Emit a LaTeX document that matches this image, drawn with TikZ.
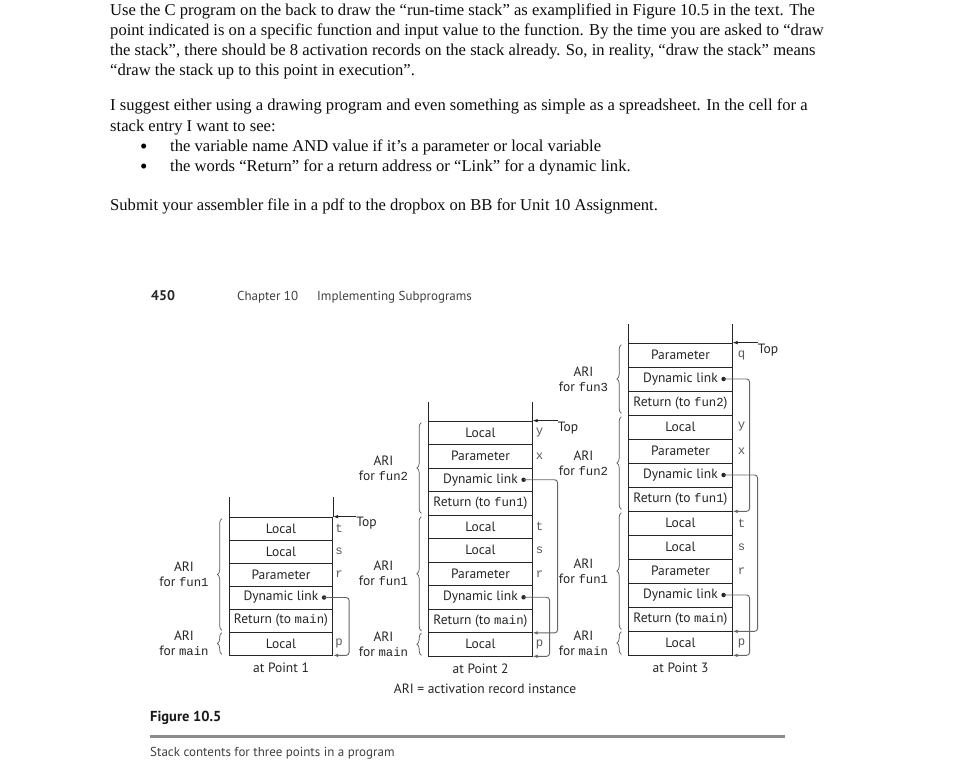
\documentclass[tikz,border=0pt]{standalone}
\usepackage{fontspec}
\setmainfont{Liberation Serif}
\newfontfamily\figsans{PT Sans}
\newfontfamily\figmono{Liberation Mono}
\usetikzlibrary{decorations.pathreplacing,arrows.meta,calc}
\newcommand{\mt}[1]{{\figmono\fontsize{12.3}{13}\selectfont #1}}
\begin{document}
\begin{tikzpicture}[x=1pt,y=-1pt,
  body/.style={anchor=base west, inner sep=0pt, text=black!95, font=\fontsize{16.6}{18}\selectfont},
  bul/.style={anchor=base west, inner sep=0pt, font=\fontsize{21}{21}\selectfont},
  figtxt/.style={text=black!85, font=\figsans\fontsize{13.5}{15}\selectfont},
  cellA/.style={draw=black!85, line width=0.7pt, minimum width=103.5pt, minimum height=23pt, inner sep=0pt, figtxt},
  cellB/.style={cellA, minimum height=23.5pt},
  cellC/.style={cellA, minimum height=24pt},
  var/.style={inner sep=0pt, text=black!65, font=\figmono\fontsize{12.3}{13}\selectfont},
  dot/.style={circle, fill=black!85, inner sep=0pt, minimum size=4.5pt},
  link/.style={draw=black!60, line width=0.9pt, rounded corners=3pt, -{Latex[length=5pt,width=3.5pt]}},
  arr/.style={draw=black!85, line width=0.7pt, -{Latex[length=5pt,width=3.5pt]}},
  br/.style={draw=black!65, line width=0.7pt, decorate, decoration={brace, amplitude=4.5pt}},
  ari/.style={figtxt, align=center, inner sep=1pt, left=12pt},
  toplab/.style={figtxt, anchor=west, inner sep=0pt},
  ext/.style={draw=black!85, line width=0.7pt}
]
\fill[white] (0,0) rectangle (962,772);
\useasboundingbox (0,0) rectangle (962,772);

% ---------- instructions ----------
\node[body] (t1) at (110,15) {Use the C program on the back to draw the “run-time stack” as examplified in Figure 10.5 in the text. The};
\node[body] (t2) at (110,35) {point indicated is on a specific function and input value to the function. By the time you are asked to “draw};
\node[body] (t3) at (110,55) {the stack”, there should be 8 activation records on the stack already. So, in reality, “draw the stack” means};
\node[body] (t4) at (110,75) {“draw the stack up to this point in execution”.};
\node[body] (t5) at (110,110) {I suggest either using a drawing program and even something as simple as a spreadsheet. In the cell for a};
\node[body] (t6) at (110,131) {stack entry I want to see:};
\node[bul] (b1) at (140,153) {•};
\node[body] (t7) at (170,151) {the variable name AND value if it’s a parameter or local variable};
\node[bul] (b2) at (140,173) {•};
\node[body] (t8) at (170,171) {the words “Return” for a return address or “Link” for a dynamic link.};
\node[body] (t9) at (110,210) {Submit your assembler file in a pdf to the dropbox on BB for Unit 10 Assignment.};

% ---------- header ----------
\node[anchor=west, inner sep=0pt, text=black!85, font=\figsans\bfseries\fontsize{14}{16}\selectfont] (pg) at (151,296) {450};
\node[anchor=west, inner sep=0pt, text=black!75, font=\figsans\fontsize{13}{15}\selectfont] (ch) at (237,297) {Chapter 10};
\node[anchor=west, inner sep=0pt, text=black!75, font=\figsans\fontsize{13}{15}\selectfont] (im) at (317,297) {Implementing Subprograms};

% ---------- stack 1 ----------
\node[cellA] (s1r1) at (281,528.5) {Local};
\node[cellA] (s1r2) at (281,551.5) {Local};
\node[cellA] (s1r3) at (281,574.5) {Parameter};
\node[cellA] (s1r4) at (281,597.5) {Dynamic link};
\node[cellA] (s1r5) at (281,620.5) {Return (to \mt{main})};
\node[cellA] (s1r6) at (281,643.5) {Local};
\draw[ext] (s1r1.north west) -- ++(0,-20);
\draw[ext] (s1r1.north east) -- ++(0,-20);
\node[var] (v1t) at ([xshift=6pt]s1r1.east) {t};
\node[var] (v1s) at ([xshift=6pt]s1r2.east) {s};
\node[var] (v1r) at ([xshift=6pt]s1r3.east) {r};
\node[var] (v1p) at ([xshift=6pt]s1r6.east) {p};
\node[dot] (d1a) at ([xshift=-9pt]s1r4.east) {};
\draw[link] (d1a.center) -- ++(25,0) |- (s1r6.south east);
\node[toplab] (top1) at ([xshift=23pt,yshift=-6pt]s1r1.north east) {Top};
\draw[arr] (top1.west |- s1r1.north east) -- (s1r1.north east);
\draw[br] ([xshift=-7pt,yshift=2pt]s1r5.south west) -- node[ari] (l1f1) {ARI\\for \mt{fun1}} ([xshift=-7pt,yshift=-2pt]s1r1.north west);
\draw[br] ([xshift=-7pt,yshift=1pt]s1r6.south west) -- node[ari] (l1m) {ARI\\for \mt{main}} ([xshift=-7pt,yshift=-1pt]s1r6.north west);
\node[figtxt] (p1) at ([yshift=-12pt]s1r6.south) {at Point 1};

% ---------- stack 2 ----------
\node[cellB] (s2r1) at (480.5,432.75) {Local};
\node[cellB] (s2r2) at (480.5,456.25) {Parameter};
\node[cellB] (s2r3) at (480.5,479.75) {Dynamic link};
\node[cellB] (s2r4) at (480.5,503.25) {Return (to \mt{fun1})};
\node[cellB] (s2r5) at (480.5,526.75) {Local};
\node[cellB] (s2r6) at (480.5,550.25) {Local};
\node[cellB] (s2r7) at (480.5,573.75) {Parameter};
\node[cellB] (s2r8) at (480.5,597.25) {Dynamic link};
\node[cellB] (s2r9) at (480.5,620.75) {Return (to \mt{main})};
\node[cellB] (s2r10) at (480.5,644.25) {Local};
\draw[ext] (s2r1.north west) -- ++(0,-19);
\draw[ext] (s2r1.north east) -- ++(0,-19);
\node[var] (v2y) at ([xshift=7pt]s2r1.east) {y};
\node[var] (v2x) at ([xshift=7pt]s2r2.east) {x};
\node[var] (v2t) at ([xshift=7pt]s2r5.east) {t};
\node[var] (v2s) at ([xshift=7pt]s2r6.east) {s};
\node[var] (v2r) at ([xshift=7pt]s2r7.east) {r};
\node[var] (v2p) at ([xshift=7pt]s2r10.east) {p};
\node[dot] (d2a) at ([xshift=-9pt]s2r3.east) {};
\node[dot] (d2b) at ([xshift=-9pt]s2r8.east) {};
\draw[link] (d2a.center) -- ++(34,0) |- (s2r9.south east);
\draw[link] (d2b.center) -- ++(26,0) |- (s2r10.south east);
\node[toplab] (top2) at ([xshift=25pt,yshift=-7pt]s2r1.north east) {Top};
\draw[arr] (top2.west |- s2r1.north east) -- (s2r1.north east);
\draw[br] ([xshift=-7pt,yshift=2pt]s2r4.south west) -- node[ari] (l2f2) {ARI\\for \mt{fun2}} ([xshift=-7pt,yshift=-2pt]s2r1.north west);
\draw[br] ([xshift=-7pt,yshift=2pt]s2r9.south west) -- node[ari] (l2f1) {ARI\\for \mt{fun1}} ([xshift=-7pt,yshift=-2pt]s2r5.north west);
\draw[br] ([xshift=-7pt,yshift=1pt]s2r10.south west) -- node[ari] (l2m) {ARI\\for \mt{main}} ([xshift=-7pt,yshift=-1pt]s2r10.north west);
\node[figtxt] (p2) at ([yshift=-12pt]s2r10.south) {at Point 2};
\node[figtxt] (ariexp) at (485,689) {ARI = activation record instance};

% ---------- stack 3 ----------
\node[cellC] (s3r1) at (680.5,355) {Parameter};
\node[cellC] (s3r2) at (680.5,379) {Dynamic link};
\node[cellC] (s3r3) at (680.5,403) {Return (to \mt{fun2})};
\node[cellC] (s3r4) at (680.5,427) {Local};
\node[cellC] (s3r5) at (680.5,451) {Parameter};
\node[cellC] (s3r6) at (680.5,475) {Dynamic link};
\node[cellC] (s3r7) at (680.5,499) {Return (to \mt{fun1})};
\node[cellC] (s3r8) at (680.5,523) {Local};
\node[cellC] (s3r9) at (680.5,547) {Local};
\node[cellC] (s3r10) at (680.5,571) {Parameter};
\node[cellC] (s3r11) at (680.5,595) {Dynamic link};
\node[cellC] (s3r12) at (680.5,619) {Return (to \mt{main})};
\node[cellC] (s3r13) at (680.5,643) {Local};
\draw[ext] (s3r1.north west) -- ++(0,-19);
\draw[ext] (s3r1.north east) -- ++(0,-19);
\node[var] (v3q) at ([xshift=9pt]s3r1.east) {q};
\node[var] (v3y) at ([xshift=9pt]s3r4.east) {y};
\node[var] (v3x) at ([xshift=9pt]s3r5.east) {x};
\node[var] (v3t) at ([xshift=9pt]s3r8.east) {t};
\node[var] (v3s) at ([xshift=9pt]s3r9.east) {s};
\node[var] (v3r) at ([xshift=9pt]s3r10.east) {r};
\node[var] (v3p) at ([xshift=9pt]s3r13.east) {p};
\node[dot] (d3a) at ([xshift=-9pt]s3r2.east) {};
\node[dot] (d3b) at ([xshift=-9pt]s3r6.east) {};
\node[dot] (d3c) at ([xshift=-9pt]s3r11.east) {};
\draw[link] (d3a.center) -- ++(26,0) |- (s3r7.south east);
\draw[link] (d3b.center) -- ++(34,0) |- (s3r12.south east);
\draw[link] (d3c.center) -- ++(26,0) |- (s3r13.south east);
\node[toplab] (top3) at ([xshift=25pt,yshift=-7pt]s3r1.north east) {Top};
\draw[arr] (top3.west |- s3r1.north east) -- (s3r1.north east);
\draw[br] ([xshift=-7pt,yshift=2pt]s3r3.south west) -- node[ari] (l3f3) {ARI\\for \mt{fun3}} ([xshift=-7pt,yshift=-2pt]s3r1.north west);
\draw[br] ([xshift=-7pt,yshift=2pt]s3r7.south west) -- node[ari] (l3f2) {ARI\\for \mt{fun2}} ([xshift=-7pt,yshift=-2pt]s3r4.north west);
\draw[br] ([xshift=-7pt,yshift=2pt]s3r12.south west) -- node[ari] (l3f1) {ARI\\for \mt{fun1}} ([xshift=-7pt,yshift=-2pt]s3r8.north west);
\draw[br] ([xshift=-7pt,yshift=1pt]s3r13.south west) -- node[ari] (l3m) {ARI\\for \mt{main}} ([xshift=-7pt,yshift=-1pt]s3r13.north west);
\node[figtxt] (p3) at ([yshift=-12pt]s3r13.south) {at Point 3};

% ---------- caption ----------
\node[anchor=west, inner sep=0pt, text=black!90, font=\figsans\bfseries\fontsize{14.5}{16}\selectfont] (fig) at (150,718) {Figure 10.5};
\coordinate (ruleA) at (150,736);
\coordinate (ruleB) at (785,736);
\draw[draw=black!45, line width=3pt] (ruleA) -- (ruleB);
\node[anchor=west, inner sep=0pt, text=black!75, font=\figsans\fontsize{13}{15}\selectfont] (cap) at (150,753) {Stack contents for three points in a program};
\end{tikzpicture}
\end{document}
